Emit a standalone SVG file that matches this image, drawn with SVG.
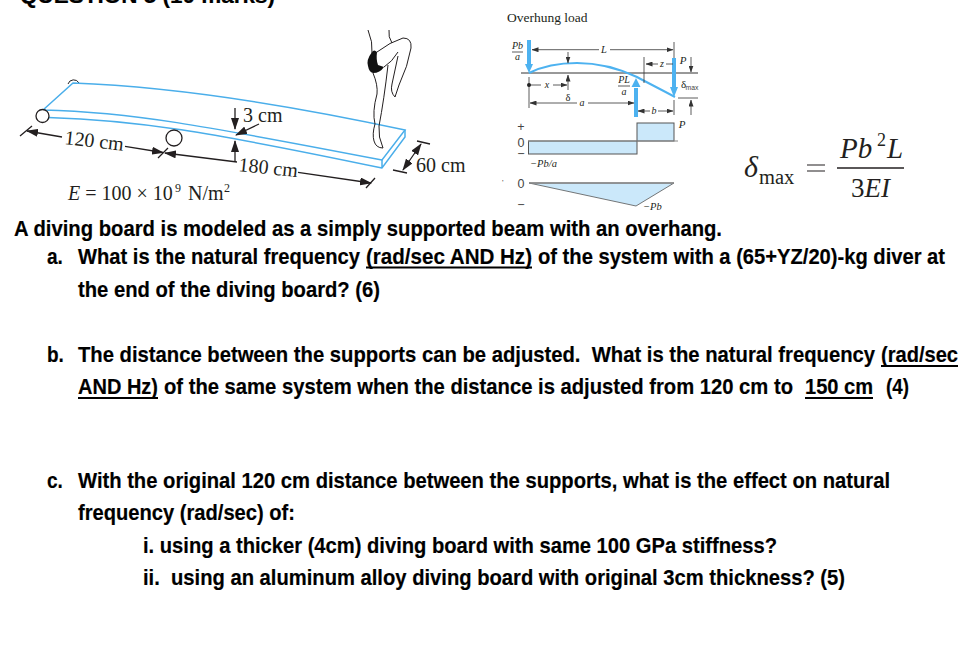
<svg xmlns="http://www.w3.org/2000/svg" width="966" height="658" viewBox="0 0 966 658">
<style>
.q{font-family:"Liberation Sans",Arial,sans-serif;font-weight:700;font-size:19px;fill:#000;stroke:#000;stroke-width:.15}
.s{font-family:"Liberation Serif","Times New Roman",serif;fill:#231f20}
.i{font-style:italic}
.g{font-family:"Liberation Sans",Arial,sans-serif;fill:#444}
.bl{fill:none;stroke:#4aaeea;stroke-width:1.5}
.k{fill:none;stroke:#231f20;stroke-width:1}
.k2{fill:none;stroke:#231f20;stroke-width:1.3}
.t{fill:none;stroke:#333;stroke-width:.8}
.u{stroke:#000;stroke-width:2;fill:none}
.sf{fill:#cbe8fa;stroke:#555;stroke-width:1}
.ba{fill:none;stroke:#4db2f0;stroke-width:4}
.bh{fill:#4db2f0}
</style>
<defs>
<marker id="a" markerWidth="12" markerHeight="8" refX="11" refY="4" orient="auto" markerUnits="userSpaceOnUse"><path d="M0 0L12 4L0 8z" fill="#231f20"/></marker>
<marker id="b" markerWidth="7" markerHeight="5" refX="6.5" refY="2.5" orient="auto" markerUnits="userSpaceOnUse"><path d="M0 0L7 2.5L0 5z" fill="#333"/></marker>
</defs>

<g id="heading"><text class="q" transform="translate(20 3) scale(1 1.18)" textLength="255" lengthAdjust="spacingAndGlyphs">QUESTION 5 (10 marks)</text></g>

<g id="board">
<path class="k" d="M68 84A6 6 0 0 1 79 83"/>
<path class="bl" d="M43 110L73 83Q210 88 405 130L382 160C200 125 130 112 43 110"/>
<path class="bl" d="M48 117.500C135 120 205 131 382 168L405 137L405 130M382 160V168"/>
<circle cx="42.500" cy="116" r="6.500" fill="#fff" stroke="#231f20" stroke-width="1.300"/>
<circle cx="174" cy="138" r="8" fill="#fff" stroke="#231f20" stroke-width="1.300"/>
</g>

<g id="diver">
<path d="M372 52Q366 60 368 66Q369 72 373 73Q380 73 384 67L378 65Q376 60 377 52Q374 49 372 52z" fill="#111"/>
<path class="k" d="M368 30Q373 42 372 53M389 30Q388 37 392 43M377 52Q390 42 403 38Q412 38 411 48Q408 66 399 85L395 97Q390 92 392 84L398 56M384 67Q392 62 398 52"/>
<path class="k" d="M373 73Q378 85 377 94Q372 112 375 124Q372 134 374 141Q376 148 383 148Q378 137 379 126Q384 100 388 65"/>
</g>

<g id="dimensions">
<path class="k2" d="M20 136L32 126M158 158L168 148M366 188L375 178M393 170L407 173M417 141L430 144"/>
<path class="k2" d="M62 137L27 131" marker-end="url(#a)"/>
<path class="k2" d="M125 146.300L163 152.500" marker-end="url(#a)"/>
<path class="k2" d="M237 162L165 153" marker-end="url(#a)"/>
<path class="k2" d="M298 172.300L371 183" marker-end="url(#a)"/>
<path class="k2" d="M235 108V129" marker-end="url(#a)"/>
<path class="k2" d="M235 162V141" marker-end="url(#a)"/>
<path class="k2" d="M259 124L236 135" marker-end="url(#a)"/>
<path class="k2" d="M412 157L421 144" marker-end="url(#a)"/>
<path class="k2" d="M412 157L403 170" marker-end="url(#a)"/>
<text class="s" font-size="20" transform="translate(64 144) rotate(6.500)">120 cm</text>
<text class="s" font-size="20" transform="translate(238 171) rotate(6)">180 cm</text>
<text class="s" x="243" y="122" font-size="20">3 cm</text>
<text class="s" x="416" y="172" font-size="20">60 cm</text>
<text class="s" x="68" y="200" font-size="20"><tspan class="i">E</tspan> = 100 × 10</text>
<text class="s" x="175" y="192" font-size="12">9</text>
<text class="s" x="188" y="200" font-size="20">N/m</text>
<text class="s" x="224" y="192" font-size="12">2</text>
</g>

<g id="beam">
<text class="s" x="507" y="22" font-size="13.500">Overhung load</text>
<path d="M521 73H698" stroke="#333" stroke-width="1"/>
<path d="M529 73C545 65 560 63 577 63C600 63 620 69 637 77C650 84 662 90 675 97" fill="none" stroke="#4db2f0" stroke-width="2"/>
<path class="ba" d="M529 40V66"/><path class="bh" d="M525 64H533L529 73z"/>
<path class="ba" d="M636 117V88"/><path class="bh" d="M631.500 87H640.500L636 78z"/>
<path class="ba" d="M674 58V88"/><path class="bh" d="M670 87H678L674 97z"/>
<path class="t" d="M512 52H523M618 86H630M674 42V58M644 57V83M529 77V108M678 98H698M674 100V115"/>
<path class="t" d="M599 49.700H532" marker-end="url(#b)"/>
<path class="t" d="M610 49.700H673" marker-end="url(#b)"/>
<path class="t" d="M577 103H530" marker-end="url(#b)"/>
<path class="t" d="M588 103H634" marker-end="url(#b)"/>
<path class="t" d="M650 111H638" marker-end="url(#b)"/>
<path class="t" d="M658 111H673" marker-end="url(#b)"/>
<path class="t" d="M658 64H646" marker-end="url(#b)"/>
<path class="t" d="M666 64H673"/>
<path class="t" d="M541 85H530"/>
<path class="t" d="M553 85H567" marker-end="url(#b)"/>
<path class="t" d="M568 52V63" marker-end="url(#b)"/>
<path class="t" d="M568 90V75" marker-end="url(#b)"/>
<path class="t" d="M691 57V72" marker-end="url(#b)"/>
<path class="t" d="M691 115V100" marker-end="url(#b)"/>
<circle cx="529" cy="85" r="2" fill="#222"/>
<g class="s i" font-size="10" text-anchor="middle">
<text x="517.500" y="49">Pb</text><text x="517.500" y="60">a</text>
<text x="624" y="83">PL</text><text x="624" y="95">a</text>
<text x="604" y="53" font-size="10.500">L</text>
<text x="547" y="88">x</text><text x="582" y="106">a</text>
<text x="654" y="114">b</text><text x="662" y="67">z</text>
<text x="683" y="64" font-size="11">P</text>
<text x="682" y="128" font-size="11">P</text>
</g>
<text class="s i" x="530" y="167" font-size="10.500">−Pb/a</text>
<text class="s i" x="643" y="209.500" font-size="10.500">−Pb</text>
<text class="s" x="568" y="101" font-size="10.500" text-anchor="middle">δ</text>
<text class="s" x="681" y="88" font-size="11">δ</text><text class="g" x="685.500" y="90" font-size="6.800">max</text>
</g>

<g id="shear-diagram">
<rect class="sf" x="528.500" y="141" width="108.500" height="13"/>
<rect class="sf" x="637" y="123" width="37" height="18"/>
<path d="M528 141H678" stroke="#888" stroke-width="1"/>
<g class="g" font-size="12.500" text-anchor="middle"><text x="521" y="131">+</text><text x="521" y="146.500">0</text><text x="521" y="158">−</text></g>
</g>

<g id="moment-diagram">
<path d="M529 183H674L636 206z" fill="#cbe8fa" stroke="#555" stroke-width=".8"/>
<path d="M529 183H674" stroke="#888" stroke-width="1.500"/>
<g class="g" font-size="12.500" text-anchor="middle"><text x="521" y="187.500">0</text><text x="521" y="209">−</text></g>
<text class="g" x="502" y="185" font-size="8">'</text>
</g>

<g id="formula">
<text class="s i" x="744" y="177" font-size="30">δ</text>
<text class="s" x="759" y="184" font-size="20.500">max</text>
<path d="M807 165H825M807 171H825" stroke="#231f20" stroke-width="1.200"/>
<path d="M837 168H904" stroke="#231f20" stroke-width="1.300"/>
<text class="s i" x="840" y="158" font-size="29">Pb</text>
<text class="s" x="877" y="145.500" font-size="18">2</text>
<text class="s i" x="887" y="158" font-size="29">L</text>
<text class="s i" x="851" y="197" font-size="27"><tspan font-style="normal">3</tspan>EI</text>
</g>

<g id="question">
<text class="q" transform="translate(14 236) scale(1 1.18)" textLength="708" lengthAdjust="spacingAndGlyphs">A diving board is modeled as a simply supported beam with an overhang.</text>
<text class="q" transform="translate(47 264) scale(1 1.18)">a.</text>
<text class="q" transform="translate(78 264) scale(1 1.18)" textLength="282" lengthAdjust="spacingAndGlyphs">What is the natural frequency</text>
<text class="q" transform="translate(366 264) scale(1 1.18)" textLength="166" lengthAdjust="spacingAndGlyphs">(rad/sec AND Hz)</text>
<path class="u" d="M366 267.500H532"/>
<text class="q" transform="translate(538 264) scale(1 1.18)" textLength="407" lengthAdjust="spacingAndGlyphs">of the system with a (65+YZ/20)-kg diver at</text>
<text class="q" transform="translate(78 297) scale(1 1.18)" textLength="302" lengthAdjust="spacingAndGlyphs">the end of the diving board? (6)</text>
<text class="q" transform="translate(47 362) scale(1 1.18)">b.</text>
<text class="q" transform="translate(78 362) scale(1 1.18)" textLength="797" lengthAdjust="spacingAndGlyphs" xml:space="preserve">The distance between the supports can be adjusted.  What is the natural frequency</text>
<text class="q" transform="translate(881 362) scale(1 1.18)" textLength="77" lengthAdjust="spacingAndGlyphs">(rad/sec</text>
<path class="u" d="M881 366H958"/>
<text class="q" transform="translate(78 394) scale(1 1.18)" textLength="80" lengthAdjust="spacingAndGlyphs">AND Hz)</text>
<path class="u" d="M78 398H158"/>
<text class="q" transform="translate(164 394) scale(1 1.18)" textLength="629" lengthAdjust="spacingAndGlyphs">of the same system when the distance is adjusted from 120 cm to</text>
<text class="q" transform="translate(805 394) scale(1 1.18)" textLength="68" lengthAdjust="spacingAndGlyphs">150 cm</text>
<path class="u" d="M805 398H873"/>
<text class="q" transform="translate(886 394) scale(1 1.18)" textLength="23" lengthAdjust="spacingAndGlyphs">(4)</text>
<text class="q" transform="translate(47 488) scale(1 1.18)">c.</text>
<text class="q" transform="translate(78 488) scale(1 1.18)" textLength="812" lengthAdjust="spacingAndGlyphs">With the original 120 cm distance between the supports, what is the effect on natural</text>
<text class="q" transform="translate(78 520) scale(1 1.18)" textLength="217" lengthAdjust="spacingAndGlyphs">frequency (rad/sec) of:</text>
<text class="q" transform="translate(143 553) scale(1 1.18)" textLength="634" lengthAdjust="spacingAndGlyphs">i. using a thicker (4cm) diving board with same 100 GPa stiffness?</text>
<text class="q" transform="translate(143 585) scale(1 1.18)" textLength="702" lengthAdjust="spacingAndGlyphs" xml:space="preserve">ii.  using an aluminum alloy diving board with original 3cm thickness? (5)</text>
</g>
</svg>
